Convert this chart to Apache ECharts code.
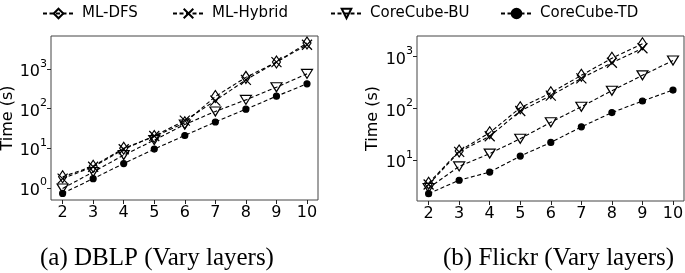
<!DOCTYPE html>
<html>
<head>
<meta charset="utf-8">
<script src="https://cdn.jsdelivr.net/npm/echarts@6/dist/echarts.min.js"></script>
<style>
  html, body { margin: 0; padding: 0; background: #fff; }
  #chart { width: 685px; height: 273px; }
</style>
</head>
<body>
<div id="chart"></div>
<script>
// layers on the x axis
var layers = [2, 3, 4, 5, 6, 7, 8, 9, 10];
var seriesNames = ['ML-DFS', 'ML-Hybrid', 'CoreCube-BU', 'CoreCube-TD'];

// DBLP, time in seconds
var dblpDFS    = [1.9, 3.5, 10, 19.7, 44, 204, 620, 1510, 4570];
var dblpHybrid = [1.7, 3.4, 9.4, 20.4, 50, 160, 537, 1500, 4150];
var dblpBU     = [0.96, 2.5, 6.7, 16, 40, 85, 167, 350, 760];
var dblpTD     = [0.72, 1.7, 4.1, 9.5, 21, 46, 97, 207, 425];

// Flickr, time in seconds (ML-* have no value at 10 layers)
var flickrDFS    = [3.6, 15, 34, 103, 200, 435, 930, 1770, null];
var flickrHybrid = [3.4, 14.5, 29, 89, 176, 381, 760, 1450, null];
var flickrBU     = [2.9, 7.6, 13.4, 26, 54, 108, 220, 435, 840];
var flickrTD     = [2.26, 4.1, 5.9, 12, 22, 44, 83, 139, 226];

var yTicks = [1, 10, 100, 1000];
var captions = ['(a) DBLP (Vary layers)', '(b) Flickr (Vary layers)'];

function pairs(vals) {
  var out = [];
  for (var i = 0; i < layers.length; i++) {
    if (vals[i] != null) out.push([layers[i], vals[i]]);
  }
  return out;
}

var symbols = {
  'ML-DFS': { symbol: 'path://M5,0L10,12L5,24L0,12Z', size: [8, 12], fill: 'rgba(0,0,0,0)' },
  'ML-Hybrid': { symbol: 'path://M0,0L10,10M10,0L0,10', size: [10, 10], fill: 'rgba(0,0,0,0)' },
  'CoreCube-BU': { symbol: 'path://M0,0L12,0L6,10Z', size: [11, 9], fill: 'rgba(0,0,0,0)' },
  'CoreCube-TD': { symbol: 'circle', size: 6, fill: '#000' }
};

function makeSeries(name, vals, idx) {
  var s = symbols[name];
  return {
    name: name,
    type: 'line',
    xAxisIndex: idx,
    yAxisIndex: idx,
    data: pairs(vals),
    symbol: s.symbol,
    symbolSize: s.size,
    showAllSymbol: true,
    animation: false,
    lineStyle: { color: '#000', width: 1.1, type: [4, 2.5] },
    itemStyle: { color: s.fill, borderColor: '#000', borderWidth: 1.2 }
  };
}

var grids = [
  { left: 51, top: 36, width: 267, height: 164 },
  { left: 417, top: 36, width: 267, height: 165 }
];
var yRanges = [[0.49, 6900], [1.63, 2500]];
var nameGaps = [35, 36];

var xAxes = [], yAxes = [], allSeries = [], gridOpts = [];
for (var g = 0; g < 2; g++) {
  gridOpts.push({
    left: grids[g].left, top: grids[g].top, width: grids[g].width, height: grids[g].height,
    outerBoundsMode: 'none', containLabel: false,
    show: true, borderColor: '#444', borderWidth: 1, backgroundColor: 'transparent'
  });
  xAxes.push({
    gridIndex: g, type: 'value', min: 1.62, max: 10.36,
    axisLine: { show: false },
    splitLine: { show: false },
    axisTick: { show: true, length: 4, customValues: layers, lineStyle: { color: '#222' } },
    axisLabel: { customValues: layers, color: '#000', fontSize: 16, fontFamily: 'DejaVu Sans', margin: 5 }
  });
  yAxes.push({
    gridIndex: g, type: 'log', logBase: 10, min: yRanges[g][0], max: yRanges[g][1],
    name: 'Time (s)', nameLocation: 'middle', nameGap: nameGaps[g],
    nameTextStyle: { color: '#000', fontSize: 16, fontFamily: 'DejaVu Sans' },
    axisLine: { show: false },
    splitLine: { show: false },
    minorTick: { show: false },
    axisTick: { show: true, length: 4, customValues: yTicks, lineStyle: { color: '#222' } },
    axisLabel: {
      customValues: yTicks, color: '#000', fontFamily: 'DejaVu Sans', margin: 4,
      formatter: function (v) {
        var e = Math.round(Math.log10(v));
        return '{a|10}{b|' + e + '}';
      },
      rich: {
        a: { fontSize: 16, lineHeight: 22, fontFamily: 'DejaVu Sans', color: '#000', verticalAlign: 'bottom' },
        b: { fontSize: 11, lineHeight: 11, fontFamily: 'DejaVu Sans', color: '#000', verticalAlign: 'top' }
      }
    }
  });
}

var dblp = [dblpDFS, dblpHybrid, dblpBU, dblpTD];
var flickr = [flickrDFS, flickrHybrid, flickrBU, flickrTD];
for (var k = 0; k < seriesNames.length; k++) {
  allSeries.push(makeSeries(seriesNames[k], dblp[k], 0));
}
for (var k2 = 0; k2 < seriesNames.length; k2++) {
  allSeries.push(makeSeries(seriesNames[k2], flickr[k2], 1));
}

// one legend per entry so each sits where the original puts it
var legendLeft = [37, 167, 325, 495];
var legends = seriesNames.map(function (n, i) {
  return {
    data: [n], left: legendLeft[i], top: 1,
    itemWidth: 31, itemHeight: 12, selectedMode: false,
    textStyle: { color: '#000', fontSize: 15, fontFamily: 'DejaVu Sans', padding: [0, 0, 0, 3] }
  };
});

var chart = echarts.init(document.getElementById('chart'));
chart.setOption({
  backgroundColor: '#fff',
  animation: false,
  legend: legends,
  grid: gridOpts,
  xAxis: xAxes,
  yAxis: yAxes,
  series: allSeries,
  graphic: [
    { type: 'text', left: 40, top: 246, style: { text: captions[0], font: '25px "Liberation Serif"', fill: '#000' } },
    { type: 'text', left: 443, top: 246, style: { text: captions[1], font: '25px "Liberation Serif"', fill: '#000' } }
  ]
});
</script>
</body>
</html>
